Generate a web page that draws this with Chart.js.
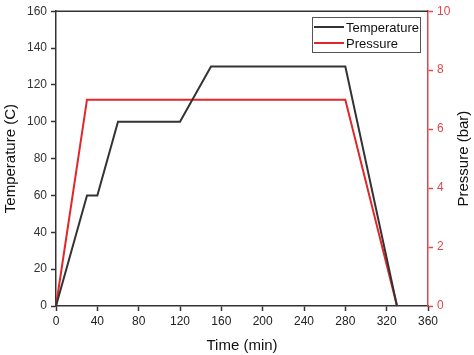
<!DOCTYPE html>
<html>
<head>
<meta charset="utf-8">
<script src="https://cdn.jsdelivr.net/npm/chart.js@4.4.1/dist/chart.umd.min.js"></script>
<style>
html,body{margin:0;padding:0;background:#fff;}
#wrap{width:474px;height:355px;}
</style>
</head>
<body>
<div id="wrap"><canvas id="c" width="474" height="355"></canvas></div>
<script>
const tempTime = [0, 30, 40, 60, 120, 150, 280, 330];
const temperature = [0, 60, 60, 100, 100, 130, 130, 0];
const presTime = [0, 30, 280, 330];
const pressure = [0, 7, 7, 0];
const seriesLabels = ['Temperature', 'Pressure'];
const rightTitle = 'Pressure (bar)';

const BLACK = '#333333';
const RED = '#e3262b';
const RED_AXIS = '#e0474c';
const FONT = "'Liberation Sans', Arial, sans-serif";

const extras = {
  id: 'extras',
  afterDraw(chart) {
    const {ctx, chartArea: a} = chart;
    ctx.save();
    ctx.strokeStyle = BLACK;
    ctx.lineWidth = 1.5;
    ctx.beginPath();
    ctx.moveTo(a.left, a.top);
    ctx.lineTo(a.right, a.top);
    ctx.stroke();
    // right axis title, reading bottom-to-top
    ctx.save();
    ctx.translate(464, (a.top + a.bottom) / 2);
    ctx.rotate(-Math.PI / 2);
    ctx.font = '15px ' + FONT;
    ctx.fillStyle = '#111';
    ctx.textAlign = 'center';
    ctx.textBaseline = 'middle';
    ctx.fillText(rightTitle, 0, 0);
    ctx.restore();
    // legend box
    const x0 = 312, y0 = 17, w = 108, h = 35;
    ctx.fillStyle = '#fff';
    ctx.fillRect(x0, y0, w, h);
    ctx.strokeStyle = '#555';
    ctx.lineWidth = 1;
    ctx.strokeRect(x0 + 0.5, y0 + 0.5, w, h);
    const cols = [BLACK, RED];
    ctx.font = '13px ' + FONT;
    ctx.textBaseline = 'middle';
    chart.data.datasets.forEach((ds, i) => {
      const yy = y0 + 10 + i * 16;
      ctx.strokeStyle = cols[i];
      ctx.lineWidth = 2;
      ctx.beginPath();
      ctx.moveTo(x0 + 2, yy);
      ctx.lineTo(x0 + 32, yy);
      ctx.stroke();
      ctx.fillStyle = '#111';
      ctx.fillText(ds.label, x0 + 34, yy + 1);
    });
    ctx.restore();
  }
};

new Chart(document.getElementById('c'), {
  type: 'line',
  data: {
    datasets: [
      {
        label: seriesLabels[0],
        data: tempTime.map((t, i) => ({x: t, y: temperature[i]})),
        borderColor: BLACK, borderWidth: 2, pointRadius: 0, yAxisID: 'y', tension: 0, clip: 4
      },
      {
        label: seriesLabels[1],
        data: presTime.map((t, i) => ({x: t, y: pressure[i]})),
        borderColor: RED, borderWidth: 2, pointRadius: 0, yAxisID: 'y2', tension: 0, clip: 4
      }
    ]
  },
  options: {
    responsive: false,
    animation: false,
    layout: {padding: {top: 7, left: 0, right: 0, bottom: 0}},
    plugins: {legend: {display: false}, tooltip: {enabled: false}},
    scales: {
      x: {
        type: 'linear', min: 0, max: 360,
        ticks: {stepSize: 40, color: '#222', font: {size: 12, family: FONT}, padding: 3, maxRotation: 0},
        grid: {drawOnChartArea: false, tickLength: 5, color: BLACK, tickWidth: 1.5},
        border: {color: BLACK, width: 1.5},
        title: {display: true, text: 'Time (min)', color: '#111', font: {size: 15, family: FONT}, padding: {top: 4, bottom: 0}},
        afterFit(s) { s.height = 49; }
      },
      y: {
        position: 'left', min: 0, max: 160,
        ticks: {stepSize: 20, color: '#333', font: {size: 12, family: FONT}, padding: 4},
        grid: {drawOnChartArea: false, tickLength: 5, color: BLACK, tickWidth: 1.5},
        border: {color: BLACK, width: 1.5},
        title: {display: true, text: 'Temperature (C)', color: '#111', font: {size: 15, family: FONT}, padding: {top: 2, bottom: 0}},
        afterFit(s) { s.width = 56; }
      },
      y2: {
        position: 'right', min: 0, max: 10,
        ticks: {stepSize: 2, color: RED_AXIS, font: {size: 12, family: FONT}, padding: 4},
        grid: {drawOnChartArea: false, tickLength: 5, color: RED_AXIS, tickWidth: 1.5},
        border: {color: RED_AXIS, width: 1.5},
        title: {display: false},
        afterFit(s) { s.width = 46; }
      }
    }
  },
  plugins: [extras]
});
</script>
</body>
</html>
